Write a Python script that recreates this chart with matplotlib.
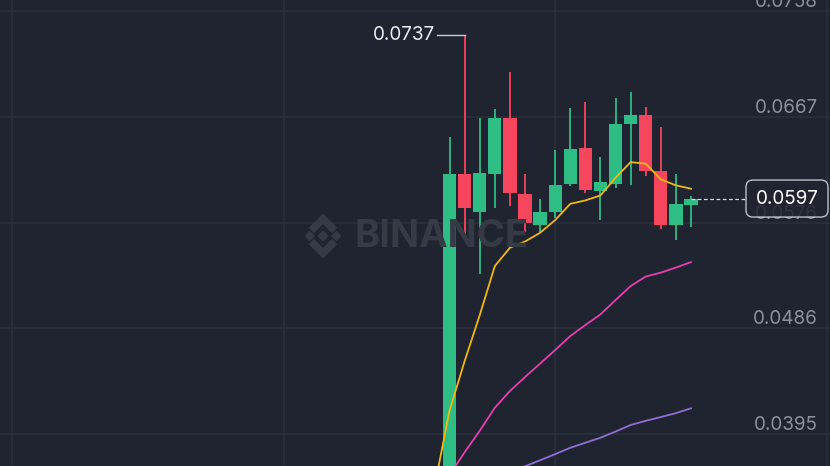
#!/usr/bin/env python3
"""Candlestick chart with three moving averages, dark exchange theme."""

import matplotlib
matplotlib.use("Agg")
import matplotlib.pyplot as plt
import matplotlib.transforms as mtransforms
from matplotlib.patches import FancyBboxPatch, Polygon

# ── data ──────────────────────────────────────────────────────────────────────
candle_x = list(range(1, 18))
opens = [0.0300, 0.06182, 0.05854, 0.06182, 0.06656, 0.06006, 0.05743, 0.05854, 0.06096,
         0.06405, 0.06034, 0.06091, 0.06605, 0.06684, 0.06205, 0.05743, 0.05914]
highs = [0.06496, 0.0737, 0.06656, 0.06733, 0.07053, 0.06182, 0.05963, 0.06382, 0.06742,
         0.06796, 0.06325, 0.06827, 0.06884, 0.06753, 0.06582, 0.06182, 0.05991]
lows = [0.0300, 0.05666, 0.05323, 0.05891, 0.05906, 0.05683, 0.05683, 0.05805, 0.06077,
        0.06020, 0.05783, 0.06057, 0.06085, 0.06162, 0.05706, 0.05612, 0.05726]
closes = [0.06182, 0.05886, 0.06191, 0.06656, 0.06014, 0.05763, 0.05854, 0.06083, 0.06391,
          0.06040, 0.06114, 0.06605, 0.06684, 0.06205, 0.05743, 0.05920, 0.05970]

ma_x = list(range(0, 18))
ma_short = [0.0350, 0.04155, 0.04579, 0.04972, 0.05392, 0.05549, 0.05602, 0.05677, 0.05786,
            0.05925, 0.05954, 0.05997, 0.06148, 0.06282, 0.06268, 0.06134, 0.06083, 0.06054]
ma_mid = [0.0340, 0.03603, 0.03798, 0.03982, 0.04179, 0.04322, 0.04442, 0.04557, 0.04673,
          0.04793, 0.04887, 0.04978, 0.05101, 0.05221, 0.05302, 0.05336, 0.05379, 0.05426]
ma_long = [0.0325, 0.03354, 0.0344, 0.03517, 0.03579, 0.03631, 0.03678, 0.03729, 0.03782,
           0.03836, 0.03879, 0.03922, 0.03975, 0.04031, 0.04067, 0.04099, 0.04133, 0.04174]

price_ticks = [0.0758, 0.0667, 0.0576, 0.0486, 0.0395]
time_grid = [-28, -10, 8, 26]
last_price = 0.0597
high_mark_idx = 1  # candle carrying the session high label

BG = "#1f2430"
GRID = "#2c323d"
UP = "#2ebd85"
DOWN = "#f6465d"
FONT = ["Inter", "DejaVu Sans"]

W, H = 830, 466
fig = plt.figure(figsize=(W / 100, H / 100), dpi=100, facecolor=BG)
ax = fig.add_axes([0, 0, 1, 1], facecolor=BG)

ax.set_xlim(-28.79, 26.21)
ax.set_ylim(0.03680, 0.07670)
ax.set_xticks(time_grid)
ax.set_yticks(price_ticks)
ax.grid(True, color=GRID, linewidth=1.1, zorder=0)
ax.tick_params(length=0, labelleft=False, labelbottom=False)
for s in ax.spines.values():
    s.set_visible(False)
ax.set_axisbelow(True)

# ── watermark ─────────────────────────────────────────────────────────────────
wm = "#353a45"
cx, cy, r = 323, 236, 21.5


def logo_poly(pts):
    return Polygon([((cx + px * r) / W, 1 - (cy - py * r) / H) for px, py in pts],
                   closed=True, transform=fig.transFigure, color=wm, zorder=1)


shapes = [
    [(0, 0.22), (0.22, 0), (0, -0.22), (-0.22, 0)],
    [(-0.62, 0.2), (-0.42, 0), (-0.62, -0.2), (-0.82, 0)],
    [(0.62, 0.2), (0.82, 0), (0.62, -0.2), (0.42, 0)],
    [(0, 1), (0.62, 0.38), (0.42, 0.18), (0, 0.6), (-0.42, 0.18), (-0.62, 0.38)],
    [(0, -1), (0.62, -0.38), (0.42, -0.18), (0, -0.6), (-0.42, -0.18), (-0.62, -0.38)],
]
for sh in shapes:
    fig.patches.append(logo_poly(sh))
fig.text(354 / W, 1 - 237 / H, "BINANCE", fontsize=27.5, fontweight="bold", color=wm,
         ha="left", va="center", family=FONT, zorder=1)

# ── candles ───────────────────────────────────────────────────────────────────
colors = [UP if c >= o else DOWN for o, c in zip(opens, closes)]
ax.vlines(candle_x, lows, highs, colors=colors, linewidth=1.3, zorder=3)
ax.bar(candle_x, [c - o for o, c in zip(opens, closes)], bottom=opens, width=0.88,
       color=colors, linewidth=0, zorder=4)

# ── moving averages ───────────────────────────────────────────────────────────
ax.plot(ma_x, ma_short, color="#f0b90b", linewidth=1.3, zorder=5)
ax.plot(ma_x, ma_mid, color="#e63fae", linewidth=1.3, zorder=5)
ax.plot(ma_x, ma_long, color="#8f6fd6", linewidth=1.3, zorder=5)

# ── price axis labels (drawn above the grid lines) ────────────────────────────
lab_tr = mtransforms.offset_copy(ax.get_yaxis_transform(), fig=fig, y=4, units="dots")
for v in price_ticks:
    ax.text(818 / W, v, f"{v:.4f}", transform=lab_tr, ha="right", va="baseline",
            fontsize=13.6, color="#8b919c", family=FONT, zorder=6)

# ── session high marker ───────────────────────────────────────────────────────
hx = candle_x[high_mark_idx]
hy = highs[high_mark_idx]
ax.plot([hx - 1.86, hx], [hy, hy], color="#c9cdd3", linewidth=1, zorder=6)
ax.text(hx - 1.95, hy, f"{hy:.4f}", ha="right", va="center", fontsize=13.6,
        color="#eaecef", family=FONT, zorder=6)

# ── last price line and box ───────────────────────────────────────────────────
box_left = 1 + (746 - 449.5) / 15.09
ax.plot([candle_x[-1], box_left], [last_price, last_price], color="#d8dbe0",
        linewidth=0.9, linestyle=(0, (3, 2)), zorder=6)
fig.canvas.draw()
_, py = ax.transData.transform((0, last_price))
box = FancyBboxPatch((746, py - 18.5), 82, 37, boxstyle="round,pad=0,rounding_size=7",
                     transform=mtransforms.IdentityTransform(), facecolor=BG,
                     edgecolor="#d8dbe0", linewidth=1, alpha=0.85, zorder=7)
fig.patches.append(box)
fig.text(787 / W, (py - 0.5) / H, f"{last_price:.4f}", ha="center", va="center",
         fontsize=13.6, color="#ffffff", family=FONT, zorder=8)

fig.savefig("out.png", dpi=100, facecolor=BG)
